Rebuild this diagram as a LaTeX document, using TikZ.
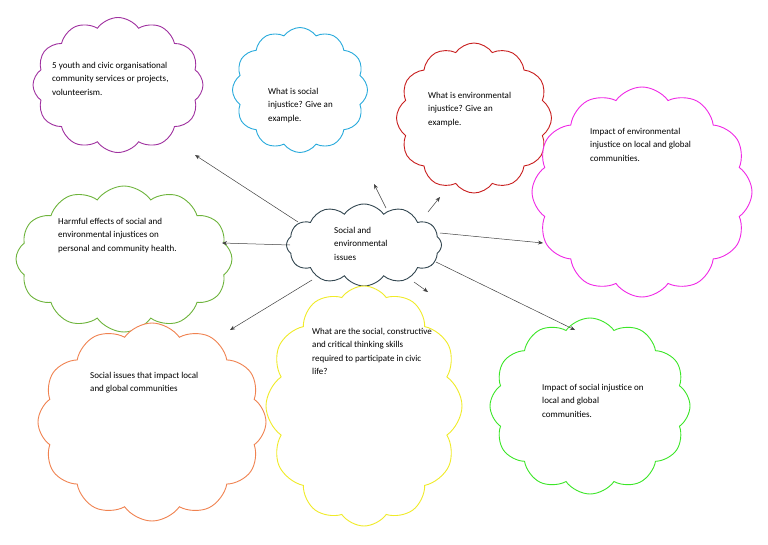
\documentclass[tikz,border=0pt]{standalone}
\usepackage{fontspec}
\setmainfont{Carlito}
\usetikzlibrary{shapes.symbols,arrows.meta}
\begin{document}
\begin{tikzpicture}[x=1pt,y=-1pt,
  cl/.style={cloud,cloud puffs=12,cloud puff arc=110,cloud ignores aspect,draw=#1,line width=0.9pt,fill=white},
  tx/.style={anchor=north west,align=left,font=\fontsize{9}{13.5}\selectfont,inner sep=0pt},
  ar/.style={-{Stealth[length=5pt,width=4pt]},draw=black!75,line width=0.5pt}]
\useasboundingbox (0,0) rectangle (768,544);
\definecolor{cpur}{RGB}{160,50,160}
\definecolor{cblu}{RGB}{40,170,220}
\definecolor{cred}{RGB}{200,30,30}
\definecolor{cmag}{RGB}{240,40,230}
\definecolor{colv}{RGB}{110,180,60}
\definecolor{cctr}{RGB}{50,70,80}
\definecolor{cora}{RGB}{240,130,80}
\definecolor{cyel}{RGB}{240,235,40}
\definecolor{cgrn}{RGB}{60,230,40}
\node[cl=cpur,minimum width=170,minimum height=135] (c1) at (118,85) {};
\node[cl=cblu,minimum width=135,minimum height=125] (c2) at (300,90) {};
\node[cl=cred,minimum width=155,minimum height=150] (c3) at (474,118) {};
\node[cl=cmag,minimum width=220,minimum height=210] (c4) at (642,192) {};
\node[cl=colv,minimum width=216,minimum height=146] (c5) at (124,259) {};
\node[cl=cctr,minimum width=155,minimum height=82] (c6) at (364,245) {};
\node[cl=cora,minimum width=228,minimum height=198] (c7) at (152,422) {};
\node[cl=cyel,minimum width=196,minimum height=240] (c8) at (364,406) {};
\node[cl=cgrn,minimum width=200,minimum height=176] (c9) at (590,406) {};
\node[tx] (t1) at (52,62) {5 youth and civic organisational\\community services or projects,\\volunteerism.};
\node[tx] (t2) at (268,88) {What is social\\injustice? Give an\\example.};
\node[tx] (t3) at (428,92) {What is environmental\\injustice? Give an\\example.};
\node[tx] (t4) at (590,128) {Impact of environmental\\injustice on local and global\\communities.};
\node[tx] (t5) at (58,218) {Harmful effects of social and\\environmental injustices on\\personal and community health.};
\node[tx] (t6) at (334,227) {Social and\\environmental\\issues};
\node[tx] (t7) at (90,372) {Social issues that impact local\\and global communities};
\node[tx] (t8) at (312,328) {What are the social, constructive\\and critical thinking skills\\required to participate in civic\\life?};
\node[tx] (t9) at (542,384) {Impact of social injustice on\\local and global\\communities.};
\coordinate (e1) at (195,155); \coordinate (e2) at (374,184);
\coordinate (e3) at (440,197); \coordinate (e4) at (543,243);
\coordinate (e5) at (222,243); \coordinate (e7) at (230,330);
\coordinate (e8) at (428,292); \coordinate (e9) at (575,330);
\coordinate (s1) at (298,222); \coordinate (s2) at (386,208);
\coordinate (s3) at (428,212); \coordinate (s4) at (440,233);
\coordinate (s5) at (290,245); \coordinate (s7) at (312,280);
\coordinate (s8) at (414,282); \coordinate (s9) at (436,262);
\foreach \i in {1,2,3,4,5,7,8,9} \draw[ar] (s\i) -- (e\i);
\end{tikzpicture}
\end{document}
